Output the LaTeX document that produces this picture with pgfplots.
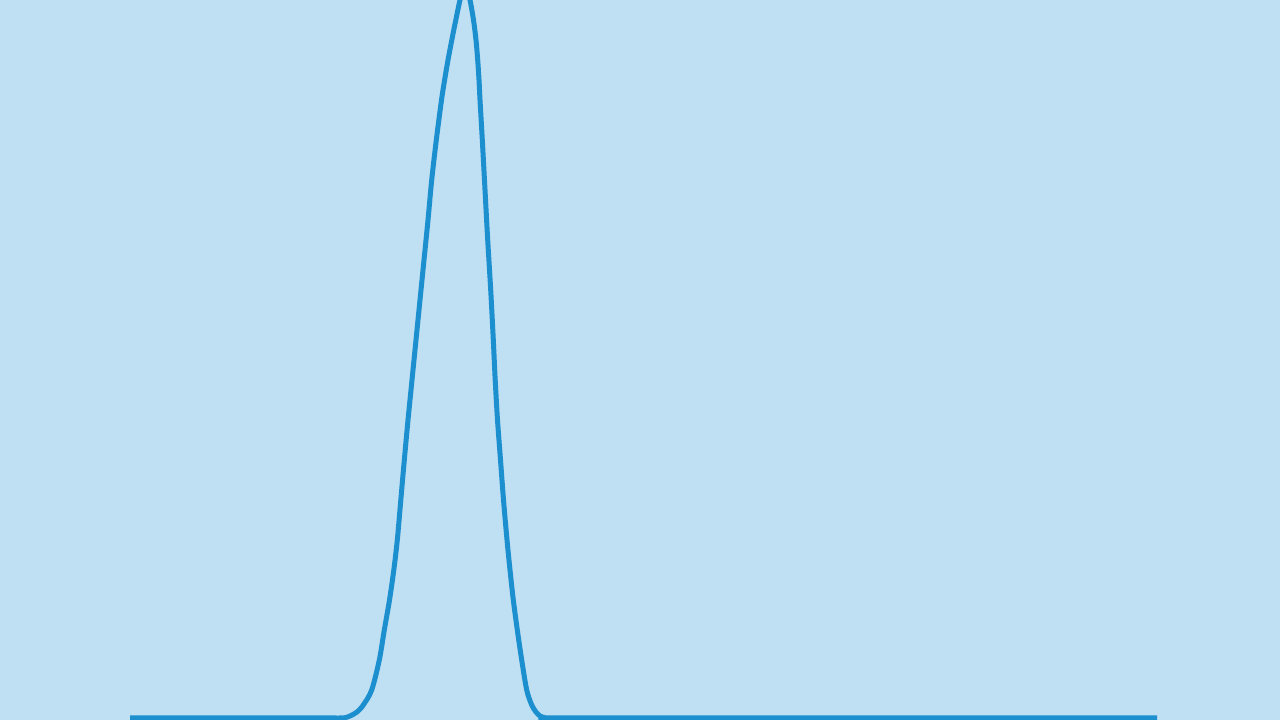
\documentclass[border=0pt]{standalone}
\usepackage{pgfplots}
\pgfplotsset{compat=1.18}
\definecolor{bgblue}{RGB}{191,223,242}
\definecolor{curveblue}{RGB}{28,143,207}
\begin{document}
\begin{tikzpicture}
\begin{axis}[
  width=12.8cm, height=7.2cm, scale only axis,
  xmin=0, xmax=1280, ymin=-2, ymax=718,
  axis lines=none, ticks=none,
  axis background/.style={fill=bgblue},
  clip=true,
]
\addplot[curveblue, line width=0.5mm, smooth, tension=0.5] coordinates {
(130,0)(300,0)(320,0)(335,0)(340,0)(345,0.3)(350,2)(357,6)(363.3,13)(371.7,28)
(379.3,58)(384.3,88)(389.5,118)(393.8,148)(397.3,178)(400.8,218)(404.3,258)(408,298)
(412,338)(416,378)(420,418)(424,458)(428,498)(431.7,538)(436.3,578)(441.5,618)(444.6,638)
(448,658)(451.8,678)(455.8,698)(460,718)(462.5,725)(465,729)
(467.5,725)(470,718)(473.5,698)(476,678)(477.7,658)(479,638)(480,618)(482.3,578)
(485,528)(487.7,478)(490.7,428)(493.3,378)(495.2,338)(497.5,298)(500.5,258)
(503.5,218)(507,178)(510,148)(513.3,118)(517.3,88)(521.7,58)(526.7,28)(531.7,13)
(536,6)(540,2)(545,0.3)(550,0)(560,0)(580,0)(1157,0)
};
\end{axis}
\pgfresetboundingbox
\path (current axis.south west) rectangle (current axis.north east);
\end{tikzpicture}
\end{document}
